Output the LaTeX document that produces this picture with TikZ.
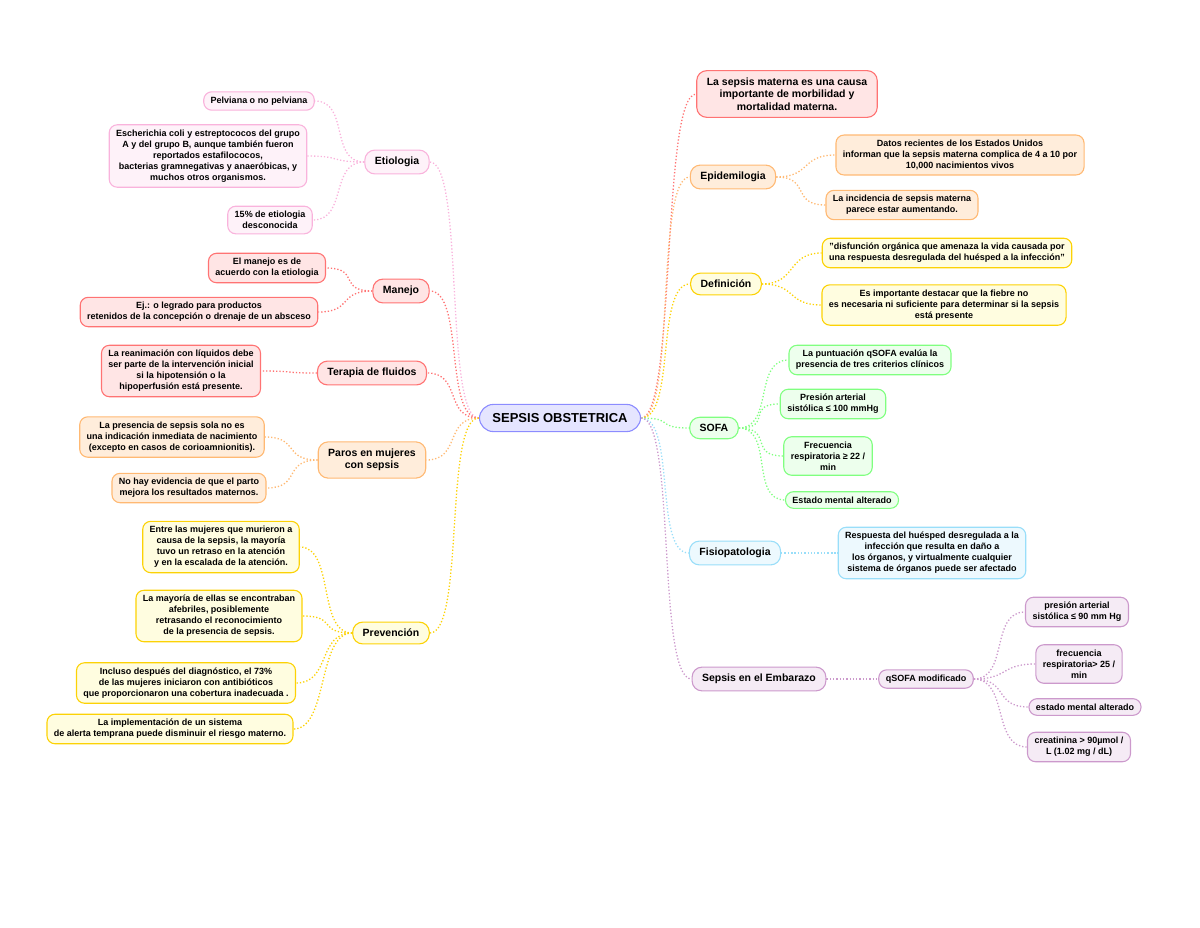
\documentclass[tikz,border=0pt]{standalone}
\usepackage{fontspec}
\setmainfont{Liberation Sans}
\begin{document}
\begin{tikzpicture}[x=1pt,y=-1pt,
 box/.style={rounded corners=8pt,line width=1.1pt,align=center,inner xsep=7pt,inner ysep=5pt,font=\fontsize{9}{11}\selectfont\bfseries},
 mid/.style={box,font=\fontsize{10.5}{12.5}\selectfont\bfseries,inner ysep=7pt,inner xsep=10pt,rounded corners=10pt},
 cred/.style={draw=red!55,fill=red!10}, cpink/.style={draw=magenta!30,fill=magenta!5},
 cora/.style={draw=orange!55,fill=orange!14}, cyel/.style={draw=yellow!70!orange,fill=yellow!12},
 cgre/.style={draw=green!50,fill=green!7}, ccya/.style={draw=cyan!40,fill=cyan!7},
 cpur/.style={draw=violet!40,fill=violet!8}, cblu/.style={draw=blue!45,fill=blue!10},
 ln/.style={line width=1.3pt,dotted}]
\useasboundingbox (0,0) rectangle (1200,927);
\node[box,cblu,font=\fontsize{13}{15}\selectfont\bfseries,inner xsep=13pt,inner ysep=9pt,rounded corners=14pt] (c) at (560,418) {SEPSIS OBSTETRICA};
% left
\node[mid,cpink] (eti) at (397,162) {Etiologia};
\node[box,cpink] (e1) at (259,101) {Pelviana o no pelviana};
\node[box,cpink] (e2) at (208,156) {Escherichia coli y estreptococos del grupo\\A y del grupo B, aunque también fueron\\reportados estafilococos,\\bacterias gramnegativas y anaeróbicas, y\\muchos otros organismos.};
\node[box,cpink] (e3) at (270,220) {15\% de etiologia\\desconocida};
\node[mid,cred] (man) at (401,291) {Manejo};
\node[box,cred] (m1) at (267,268) {El manejo es de\\acuerdo con la etiologia};
\node[box,cred] (m2) at (199,312) {Ej.: o legrado para productos\\retenidos de la concepción o drenaje de un absceso};
\node[mid,cred] (ter) at (372,373) {Terapia de fluidos};
\node[box,cred] (t1) at (181,371) {La reanimación con líquidos debe\\ser parte de la intervención inicial\\si la hipotensión o la\\hipoperfusión está presente.};
\node[mid,cora] (par) at (372,460) {Paros en mujeres\\con sepsis};
\node[box,cora] (p1) at (172,437) {La presencia de sepsis sola no es\\una indicación inmediata de nacimiento\\(excepto en casos de corioamnionitis).};
\node[box,cora] (p2) at (189,488) {No hay evidencia de que el parto\\mejora los resultados maternos.};
\node[mid,cyel] (pre) at (391,633) {Prevención};
\node[box,cyel] (v1) at (221,547) {Entre las mujeres que murieron a\\causa de la sepsis, la mayoría\\tuvo un retraso en la atención\\y en la escalada de la atención.};
\node[box,cyel] (v2) at (219,616) {La mayoría de ellas se encontraban\\afebriles, posiblemente\\retrasando el reconocimiento\\de la presencia de sepsis.};
\node[box,cyel] (v3) at (186,683) {Incluso después del diagnóstico, el 73\%\\de las mujeres iniciaron con antibióticos\\que proporcionaron una cobertura inadecuada .};
\node[box,cyel] (v4) at (170,729) {La implementación de un sistema\\de alerta temprana puede disminuir el riesgo materno.};
% right
\node[mid,cred] (sm) at (787,94) {La sepsis materna es una causa\\importante de morbilidad y\\mortalidad materna.};
\node[mid,cora] (epi) at (733,177) {Epidemilogia};
\node[box,cora] (ep1) at (960,155) {Datos recientes de los Estados Unidos\\informan que la sepsis materna complica de 4 a 10 por\\10,000 nacimientos vivos};
\node[box,cora] (ep2) at (902,205) {La incidencia de sepsis materna\\parece estar aumentando.};
\node[mid,cyel] (def) at (726,284) {Definición};
\node[box,cyel] (d1) at (947,253) {"disfunción orgánica que amenaza la vida causada por\\una respuesta desregulada del huésped a la infección"};
\node[box,cyel] (d2) at (944,305) {Es importante destacar que la fiebre no\\es necesaria ni suficiente para determinar si la sepsis\\está presente};
\node[mid,cgre] (sofa) at (714,428) {SOFA};
\node[box,cgre] (s1) at (870,360) {La puntuación qSOFA evalúa la\\presencia de tres criterios clínicos};
\node[box,cgre] (s2) at (833,404) {Presión arterial\\sistólica ≤ 100 mmHg};
\node[box,cgre] (s3) at (828,456) {Frecuencia\\respiratoria ≥ 22 /\\min};
\node[box,cgre] (s4) at (842,500) {Estado mental alterado};
\node[mid,ccya] (fis) at (735,553) {Fisiopatologia};
\node[box,ccya] (f1) at (932,553) {Respuesta del huésped desregulada a la\\infección que resulta en daño a\\los órganos, y virtualmente cualquier\\sistema de órganos puede ser afectado};
\node[mid,cpur] (emb) at (759,679) {Sepsis en el Embarazo};
\node[box,cpur] (q) at (926,679) {qSOFA modificado};
\node[box,cpur] (q1) at (1077,612) {presión arterial\\sistólica ≤ 90 mm Hg};
\node[box,cpur] (q2) at (1079,664) {frecuencia\\respiratoria> 25 /\\min};
\node[box,cpur] (q3) at (1085,707) {estado mental alterado};
\node[box,cpur] (q4) at (1079,747) {creatinina > 90µmol /\\L (1.02 mg / dL)};
\newcommand\lc[3]{\draw[ln,#3] (#1.west) .. controls +(-35,0) and +(35,0) .. (#2.east);}
\newcommand\rc[3]{\draw[ln,#3] (#1.east) .. controls +(35,0) and +(-35,0) .. (#2.west);}
\lc{c}{eti}{magenta!30}\lc{c}{man}{red!55}\lc{c}{ter}{red!55}\lc{c}{par}{orange!55}\lc{c}{pre}{yellow!70!orange}
\lc{eti}{e1}{magenta!30}\lc{eti}{e2}{magenta!30}\lc{eti}{e3}{magenta!30}
\lc{man}{m1}{red!55}\lc{man}{m2}{red!55}\lc{ter}{t1}{red!55}
\lc{par}{p1}{orange!55}\lc{par}{p2}{orange!55}
\lc{pre}{v1}{yellow!70!orange}\lc{pre}{v2}{yellow!70!orange}\lc{pre}{v3}{yellow!70!orange}\lc{pre}{v4}{yellow!70!orange}
\rc{c}{sm}{red!55}\rc{c}{epi}{orange!55}\rc{c}{def}{yellow!70!orange}\rc{c}{sofa}{green!50}\rc{c}{fis}{cyan!40}\rc{c}{emb}{violet!40}
\rc{epi}{ep1}{orange!55}\rc{epi}{ep2}{orange!55}\rc{def}{d1}{yellow!70!orange}\rc{def}{d2}{yellow!70!orange}
\rc{sofa}{s1}{green!50}\rc{sofa}{s2}{green!50}\rc{sofa}{s3}{green!50}\rc{sofa}{s4}{green!50}
\rc{fis}{f1}{cyan!40}\rc{emb}{q}{violet!40}
\rc{q}{q1}{violet!40}\rc{q}{q2}{violet!40}\rc{q}{q3}{violet!40}\rc{q}{q4}{violet!40}
\end{tikzpicture}
\end{document}
